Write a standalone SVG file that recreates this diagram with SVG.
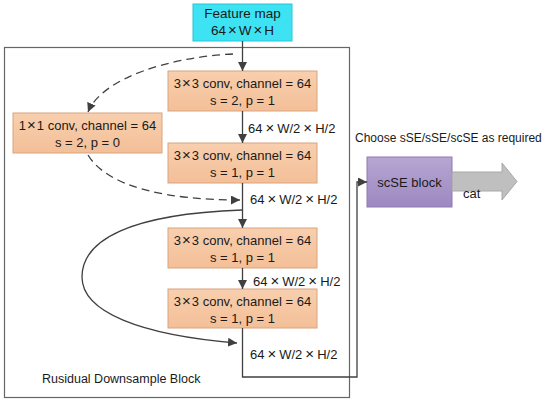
<svg xmlns="http://www.w3.org/2000/svg" width="550" height="402" viewBox="0 0 550 402">
<defs>
<linearGradient id="gConv" x1="0" y1="0" x2="0" y2="1"><stop offset="0" stop-color="#F8CFAE"/><stop offset="1" stop-color="#F3BF98"/></linearGradient>
<linearGradient id="gSE" x1="0" y1="0" x2="0" y2="1"><stop offset="0" stop-color="#B7A6D3"/><stop offset="1" stop-color="#9C88C0"/></linearGradient>
<marker id="ah" viewBox="0 0 10 10" refX="10" refY="5" markerWidth="9" markerHeight="9" markerUnits="userSpaceOnUse" orient="auto"><path d="M0,0 L10,5 L0,10 Z" fill="#404040"/></marker>
</defs>
<style>
text{font-family:"Liberation Sans",Arial,sans-serif;font-size:13px;fill:#1a1a1a}
.conv{fill:url(#gConv);stroke:#D7A47E;stroke-width:1}
.ln{fill:none;stroke:#404040;stroke-width:1.3}
.dash{fill:none;stroke:#404040;stroke-width:1.3;stroke-dasharray:8,5}
.c{text-anchor:middle}
.x{font-size:15px}
</style>
<rect x="4.5" y="47.5" width="345" height="350" fill="none" stroke="#666" stroke-width="1.2"/>
<g id="feature">
<rect x="193" y="4" width="99" height="37" fill="#3DE3F2" stroke="#2BC4D4"/>
<text x="242.5" y="18" class="c" style="font-size:13.5px">Feature map</text>
<text x="242.5" y="35" class="c" style="font-size:13.5px">64<tspan class="x" dx="2">×</tspan><tspan dx="2">W</tspan><tspan class="x" dx="2">×</tspan><tspan dx="2">H</tspan></text>
</g>
<g id="conv1"><rect class="conv" x="168" y="71" width="149" height="40"/><text x="242.5" y="88" class="c">3<tspan class="x" dx="1">×</tspan><tspan dx="1">3 conv, channel = 64</tspan></text><text x="242.5" y="105" class="c">s = 2, p = 1</text></g>
<g id="conv2"><rect class="conv" x="168" y="143" width="149" height="40"/><text x="242.5" y="160" class="c">3<tspan class="x" dx="1">×</tspan><tspan dx="1">3 conv, channel = 64</tspan></text><text x="242.5" y="177" class="c">s = 1, p = 1</text></g>
<g id="conv3"><rect class="conv" x="168" y="228" width="149" height="40"/><text x="242.5" y="245" class="c">3<tspan class="x" dx="1">×</tspan><tspan dx="1">3 conv, channel = 64</tspan></text><text x="242.5" y="262" class="c">s = 1, p = 1</text></g>
<g id="conv4"><rect class="conv" x="168" y="289" width="149" height="39"/><text x="242.5" y="306" class="c">3<tspan class="x" dx="1">×</tspan><tspan dx="1">3 conv, channel = 64</tspan></text><text x="242.5" y="323" class="c">s = 1, p = 1</text></g>
<g id="conv1x1"><rect class="conv" x="13" y="113" width="149" height="40"/><text x="87.5" y="130" class="c">1<tspan class="x" dx="1">×</tspan><tspan dx="1">1 conv, channel = 64</tspan></text><text x="87.5" y="147" class="c">s = 2, p = 0</text></g>
<g id="scse">
<rect x="367" y="157" width="85" height="50" fill="url(#gSE)" stroke="#8E7BB0"/>
<text x="409.5" y="187" class="c">scSE block</text>
</g>
<g id="cat">
<path d="M452,172 L502,172 L502,163 L517,181.5 L502,200 L502,191 L452,191 Z" fill="#BFBFBF" stroke="#A8A8A8"/>
<text x="463" y="198">cat</text>
</g>
<g id="connectors">
<line class="ln" x1="242.5" y1="41" x2="242.5" y2="71" marker-end="url(#ah)"/>
<line class="ln" x1="242.5" y1="111" x2="242.5" y2="143" marker-end="url(#ah)"/>
<line class="ln" x1="242.5" y1="183" x2="242.5" y2="228" marker-end="url(#ah)"/>
<line class="ln" x1="242.5" y1="268" x2="242.5" y2="289" marker-end="url(#ah)"/>
<polyline class="ln" points="242.5,328 242.5,377 357,377 357,182 367,182" marker-end="url(#ah)"/>
<path class="dash" d="M233,54 C170,57 102,78 88,112" marker-end="url(#ah)"/>
<path class="dash" d="M88,155 C108,188 170,200 240,200" marker-end="url(#ah)"/>
<path class="ln" d="M242,210 C130,214 82,240 82,277 C82,312 140,335 237,343" marker-end="url(#ah)"/>
</g>
<text x="248" y="133">64<tspan class="x" dx="3">×</tspan><tspan dx="3">W/2</tspan><tspan class="x" dx="3">×</tspan><tspan dx="3">H/2</tspan></text>
<text x="250" y="204">64<tspan class="x" dx="3">×</tspan><tspan dx="3">W/2</tspan><tspan class="x" dx="3">×</tspan><tspan dx="3">H/2</tspan></text>
<text x="253" y="286">64<tspan class="x" dx="3">×</tspan><tspan dx="3">W/2</tspan><tspan class="x" dx="3">×</tspan><tspan dx="3">H/2</tspan></text>
<text x="250" y="359">64<tspan class="x" dx="3">×</tspan><tspan dx="3">W/2</tspan><tspan class="x" dx="3">×</tspan><tspan dx="3">H/2</tspan></text>
<text x="355" y="142" style="font-size:12px">Choose sSE/sSE/scSE as required</text>
<text x="42" y="383" style="font-size:12.5px">Rusidual Downsample Block</text>
</svg>
